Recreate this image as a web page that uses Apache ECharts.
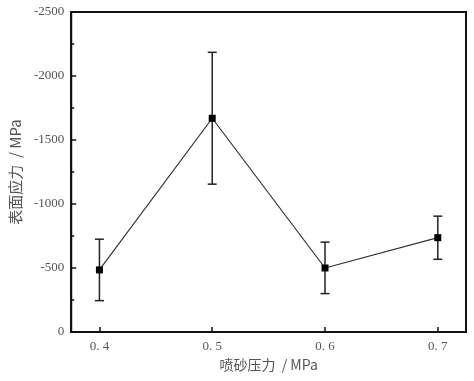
<!DOCTYPE html>
<html><head><meta charset="utf-8">
<script src="https://cdn.jsdelivr.net/npm/echarts@6/dist/echarts.min.js"></script>
<style>html,body{margin:0;padding:0;background:#fff}#c{width:474px;height:381px}</style>
</head><body><div id="c"></div>
<script>
const pressures = [0.4, 0.5, 0.6, 0.7];
const stress = [-485, -1670, -500, -737];
const errLow = [-245, -1155, -300, -568];
const errHigh = [-725, -2185, -702, -905];
const xTicks = [0.4, 0.5, 0.6, 0.7];

const serif = 'Liberation Serif';
const cjk = 'Noto Sans CJK SC';

const chart = echarts.init(document.getElementById('c'));
chart.setOption({
  animation: false,
  grid: {left: 70, right: 8, top: 12, bottom: 49, show: true, borderColor: '#111', borderWidth: 2},
  xAxis: {
    type: 'value', min: 0.375, max: 0.725,
    name: '喷砂压力  / MPa', nameLocation: 'middle', nameGap: 18,
    nameTextStyle: {fontFamily: cjk, fontSize: 14, color: '#555'},
    axisLine: {show: true, lineStyle: {color: '#111', width: 2}},
    axisTick: {show: true, inside: true, length: 5, lineStyle: {color: '#111', width: 1.5}, customValues: xTicks},
    axisLabel: {fontFamily: serif, fontSize: 13, color: '#555', margin: 8, customValues: xTicks,
      formatter: v => v.toFixed(1).replace('.', '. ')},
    splitLine: {show: false}
  },
  yAxis: {
    type: 'value', min: -2500, max: 0, interval: 500, inverse: true,
    name: '表面应力  / MPa', nameLocation: 'middle', nameGap: 48,
    nameTextStyle: {fontFamily: cjk, fontSize: 15, color: '#555'},
    axisLine: {show: true, lineStyle: {color: '#111', width: 2}},
    axisTick: {show: true, inside: true, length: 5, lineStyle: {color: '#111', width: 1.5}},
    minorTick: {show: true, splitNumber: 2, length: 3, lineStyle: {color: '#111', width: 1.5}},
    axisLabel: {fontFamily: serif, fontSize: 13, color: '#555', margin: 7, formatter: v => String(v)},
    splitLine: {show: false}
  },
  series: [
    {
      type: 'custom',
      data: pressures.map((p, i) => [p, errLow[i], errHigh[i]]),
      renderItem: (params, api) => {
        const x = api.value(0);
        const lo = api.coord([x, api.value(1)]);
        const hi = api.coord([x, api.value(2)]);
        const hw = 4.5;
        const st = {stroke: '#222', lineWidth: 1.5};
        return {type: 'group', children: [
          {type: 'line', shape: {x1: lo[0], y1: lo[1], x2: hi[0], y2: hi[1]}, style: st},
          {type: 'line', shape: {x1: lo[0]-hw, y1: lo[1], x2: lo[0]+hw, y2: lo[1]}, style: st},
          {type: 'line', shape: {x1: hi[0]-hw, y1: hi[1], x2: hi[0]+hw, y2: hi[1]}, style: st}
        ]};
      },
      z: 2
    },
    {
      type: 'line',
      data: pressures.map((p, i) => [p, stress[i]]),
      symbol: 'rect', symbolSize: 7,
      lineStyle: {color: '#333', width: 1.2},
      itemStyle: {color: '#000'},
      z: 3
    }
  ]
});
</script></body></html>
